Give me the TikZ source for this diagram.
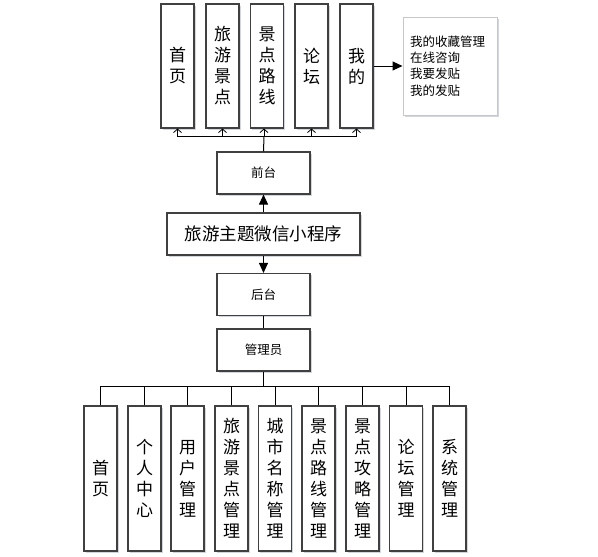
\documentclass[tikz,border=0pt]{standalone}
\usepackage{fontspec}
\setmainfont{Noto Sans CJK SC}
\usetikzlibrary{arrows.meta,shadows}
\definecolor{bord}{HTML}{404040}
\definecolor{shd}{HTML}{C8CCD4}
\tikzset{
  box/.style={draw=bord, line width=1.1pt, fill=white, inner sep=0pt, align=center,
    drop shadow={shadow xshift=1.5pt, shadow yshift=-1.5pt, fill=shd, opacity=0.8}},
  vbox/.style={box, minimum width=33pt, font=\fontsize{17}{21}\selectfont},
  tbox/.style={vbox, minimum height=124pt},
  bbox/.style={vbox, minimum height=145pt},
  hbox/.style={box, minimum width=93pt, minimum height=42pt, font=\fontsize{12.5}{15}\selectfont},
  conn/.style={draw=black, line width=1pt},
  fillar/.style={conn, -{Triangle[length=10pt,width=9pt]}},
  upar/.style={conn, -{Straight Barb[length=3.5pt,width=8pt,line width=0.8pt]}},
}
\begin{document}
\begin{tikzpicture}[x=1pt,y=-1pt]
\useasboundingbox (0,0) rectangle (598,557);
% top row
\node[tbox] (t1) at (177.5,66) {首\\页};
\node[tbox] (t2) at (222.5,66) {旅\\游\\景\\点};
\node[tbox] (t3) at (267,66) {景\\点\\路\\线};
\node[tbox] (t4) at (311.5,66) {论\\坛};
\node[tbox] (t5) at (356.5,66) {我\\的};
\node[draw=black!22, line width=1pt, fill=white, minimum width=94pt, minimum height=98pt,
  text width=80pt, align=left, inner sep=0pt, font=\fontsize{12.5}{16.3}\selectfont,
  drop shadow={shadow xshift=1.5pt, shadow yshift=-1.5pt, fill=shd, opacity=0.8}]
  (rb) at (450,66) {我的收藏管理\\在线咨询\\我要发贴\\我的发贴};
\draw[fillar] (t5.east) -- (rb.west);
% middle
\node[hbox] (f) at (263.5,173) {前台};
\node[box, minimum width=193pt, minimum height=42pt, font=\fontsize{17.5}{21}\selectfont] (m) at (263.5,234) {旅游主题微信小程序};
\node[hbox] (h) at (263.5,294.5) {后台};
\node[hbox] (g) at (263.5,350) {管理员};
\draw[fillar] (m.north) -- (f.south);
\draw[fillar] (m.south) -- (h.north);
\draw[conn] (h.south) -- (g.north);
% top bus
\coordinate (bt) at (264,136.5);
\draw[conn] (f.north) -- (bt);
\draw[conn] (bt -| t1) -- (bt -| t5);
\draw[upar] (bt -| t1) -- (t1.south);
\draw[upar] (bt -| t2) -- (t2.south);
\draw[upar] (bt) -- (bt |- t3.south);
\draw[upar] (bt -| t4) -- (t4.south);
\draw[upar] (bt -| t5) -- (t5.south);
% bottom row
\node[bbox] (b1) at (100.5,478.5) {首\\页};
\node[bbox] (b2) at (144.5,478.5) {个\\人\\中\\心};
\node[bbox] (b3) at (187.5,478.5) {用\\户\\管\\理};
\node[bbox] (b4) at (231.5,478.5) {旅\\游\\景\\点\\管\\理};
\node[bbox] (b5) at (275,478.5) {城\\市\\名\\称\\管\\理};
\node[bbox] (b6) at (318.5,478.5) {景\\点\\路\\线\\管\\理};
\node[bbox] (b7) at (362.5,478.5) {景\\点\\攻\\略\\管\\理};
\node[bbox] (b8) at (406,478.5) {论\\坛\\管\\理};
\node[bbox] (b9) at (449.5,478.5) {系\\统\\管\\理};
\coordinate (bb) at (263.5,386);
\draw[conn] (g.south) -- (bb);
\draw[conn] (bb -| b1) -- (bb -| b9);
\foreach \i in {1,...,9} { \draw[conn] (bb -| b\i) -- (b\i.north); }
\end{tikzpicture}
\end{document}
